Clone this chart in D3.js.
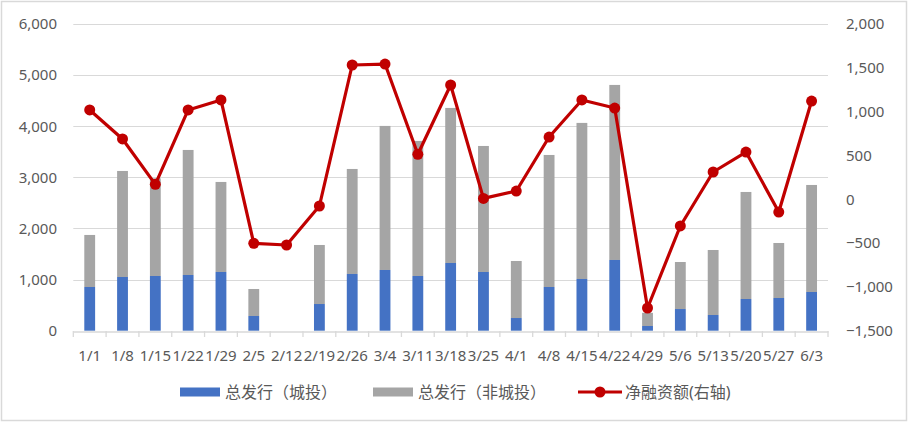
<!DOCTYPE html>
<html><head><meta charset="utf-8">
<script src="https://cdn.jsdelivr.net/npm/d3@7"></script>
<style>body{margin:0;background:#fff}svg{display:block}text{font-family:"Noto Sans","Noto Sans CJK SC",sans-serif;fill:#595959}</style>
</head><body><svg id="c" width="909" height="423"></svg>
<script>
const categories = ["1/1","1/8","1/15","1/22","1/29","2/5","2/12","2/19","2/26","3/4","3/11","3/18","3/25","4/1","4/8","4/15","4/22","4/29","5/6","5/13","5/20","5/27","6/3"];
const chengtou = [855,1051,1070,1090,1149,288,0,522,1110,1188,1070,1325,1149,248,855,1012,1384,92,424,307,620,640,757];
const totalIssue = [1873,3125,2980,3536,2910,816,0,1677,3164,4006,3712,4358,3614,1364,3438,4065,4808,350,1344,1579,2714,1716,2851];
const netFinancing = [1019,688,170,1019,1133,-503,-522,-77,1532,1543,513,1304,10,94,710,1133,1041,-1241,-305,311,539,-146,1121];
const leftTicks = [0,1000,2000,3000,4000,5000,6000];
const rightTicks = [-1500,-1000,-500,0,500,1000,1500,2000];
const seriesNames = ["总发行（城投）","总发行（非城投）","净融资额(右轴)"];

const svg = d3.select("#c");
const L = 73.3, R = 828, T = 24, B = 330.7;
svg.append("rect").attr("x",1.5).attr("y",1.5).attr("width",905).attr("height",419).attr("fill","#fff").attr("stroke","#d9d9d9").attr("stroke-width",1.5);

const x = d3.scaleBand().domain(categories).range([L,R]).paddingInner(0.67).paddingOuter(0.335);
const xb = d3.scaleBand().domain(categories).range([L,R]);
const yL = d3.scaleLinear().domain([0,6000]).range([B,T]);
const yR = d3.scaleLinear().domain([-1500,2000]).range([B,T]);

// gridlines
svg.append("g").selectAll("line").data(leftTicks.slice(1)).join("line")
  .attr("x1",L).attr("x2",R).attr("y1",d=>Math.round(yL(d))+0.5).attr("y2",d=>Math.round(yL(d))+0.5)
  .attr("stroke","#d9d9d9").attr("stroke-width",1);

// left axis
const gl = svg.append("g").attr("transform",`translate(${57},0)`)
  .call(d3.axisLeft(yL).tickValues(leftTicks).tickSize(0).tickPadding(0).tickFormat(d3.format(",")));
gl.select(".domain").remove();
gl.selectAll("text").style("font-size","15px").attr("fill","#595959");

// right axis
const gr = svg.append("g").attr("transform",`translate(${846},0)`)
  .call(d3.axisRight(yR).tickValues(rightTicks).tickSize(0).tickPadding(0).tickFormat(d3.format(",")));
gr.select(".domain").remove();
gr.selectAll("text").style("font-size","15px").attr("fill","#595959");

// bars
svg.append("g").selectAll("rect").data(categories).join("rect")
  .attr("x",d=>x(d)).attr("width",x.bandwidth())
  .attr("y",(d,i)=>yL(totalIssue[i])).attr("height",(d,i)=>yL(chengtou[i])-yL(totalIssue[i]))
  .attr("fill","#a5a5a5");
svg.append("g").selectAll("rect").data(categories).join("rect")
  .attr("x",d=>x(d)).attr("width",x.bandwidth())
  .attr("y",(d,i)=>yL(chengtou[i])).attr("height",(d,i)=>yL(0)-yL(chengtou[i]))
  .attr("fill","#4472c4");

// x axis
const gx = svg.append("g").attr("transform",`translate(0,${Math.round(B)+0.5})`)
  .call(d3.axisBottom(xb).tickSize(0).tickPadding(0));
gx.select(".domain").attr("stroke","#d9d9d9").attr("stroke-width",1.3);
gx.selectAll(".tick line").remove();
gx.selectAll("text").style("font-size","15px").attr("fill","#595959").attr("dy",null).attr("y",29);
svg.append("g").selectAll("line").data(d3.range(categories.length+1)).join("line")
  .attr("x1",i=>L+i*xb.step()).attr("x2",i=>L+i*xb.step())
  .attr("y1",Math.round(B)).attr("y2",Math.round(B)+6).attr("stroke","#d9d9d9").attr("stroke-width",1.3);

// line
const cx = d=>x(d)+x.bandwidth()/2;
svg.append("path").datum(categories)
  .attr("d",d3.line().x(d=>cx(d)).y((d,i)=>yR(netFinancing[i])))
  .attr("fill","none").attr("stroke","#c00000").attr("stroke-width",3.2).attr("stroke-linejoin","round");
svg.append("g").selectAll("circle").data(categories).join("circle")
  .attr("cx",d=>cx(d)).attr("cy",(d,i)=>yR(netFinancing[i])).attr("r",5.5).attr("fill","#c00000");

// legend
const lg = svg.append("g");
const ly = 392;
lg.append("rect").attr("x",180).attr("y",ly-4.5).attr("width",40).attr("height",9).attr("fill","#4472c4");
lg.append("text").attr("x",225).attr("y",ly).attr("dy","0.35em").style("font-size","16px").text(seriesNames[0]);
lg.append("rect").attr("x",373).attr("y",ly-4.5).attr("width",40).attr("height",9).attr("fill","#a5a5a5");
lg.append("text").attr("x",418).attr("y",ly).attr("dy","0.35em").style("font-size","16px").text(seriesNames[1]);
lg.append("line").attr("x1",578).attr("x2",622).attr("y1",ly).attr("y2",ly).attr("stroke","#c00000").attr("stroke-width",3.2);
lg.append("circle").attr("cx",600).attr("cy",ly).attr("r",5.5).attr("fill","#c00000");
lg.append("text").attr("x",625).attr("y",ly).attr("dy","0.35em").style("font-size","16px").text(seriesNames[2]);
</script></body></html>
